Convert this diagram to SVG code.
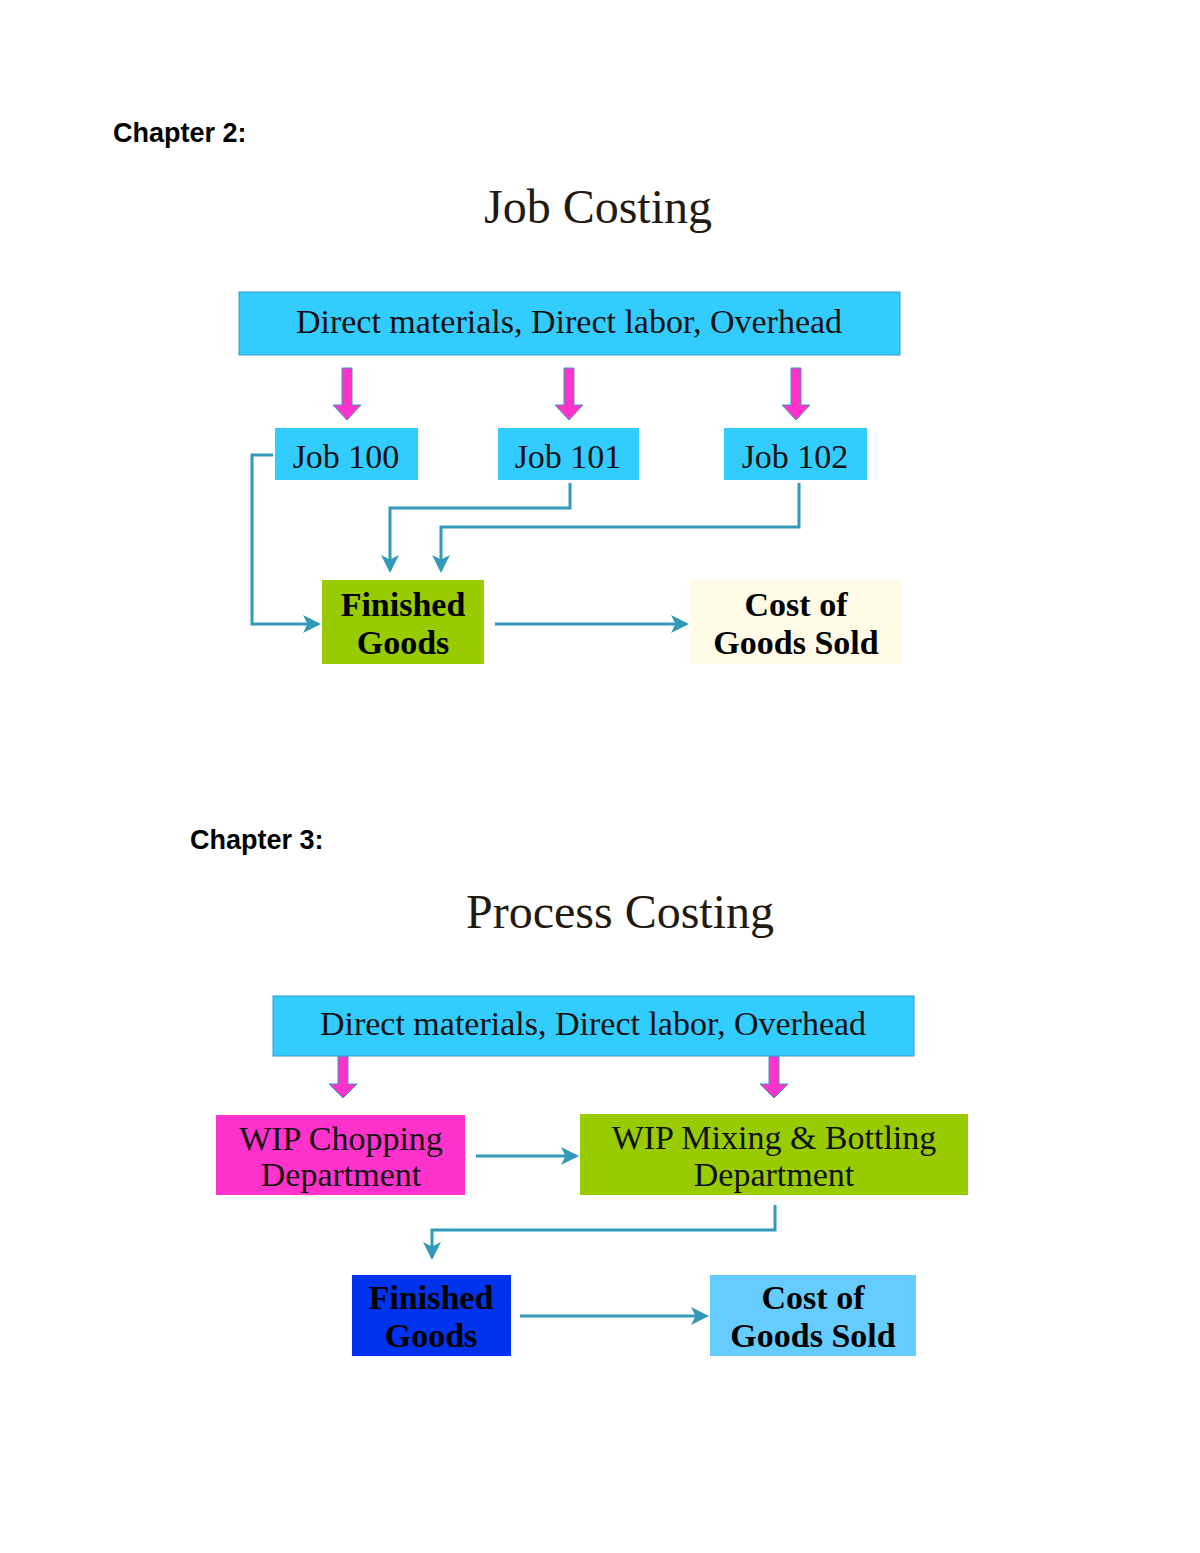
<svg xmlns="http://www.w3.org/2000/svg" width="1200" height="1553" viewBox="0 0 1200 1553">
<style>
.h{font-family:"Liberation Sans",Arial,sans-serif;font-weight:bold;font-size:27px;fill:#000}
.t{font-family:"Liberation Serif","Times New Roman",serif;font-size:48px;fill:#221a10;text-anchor:middle}
.b{font-family:"Liberation Serif","Times New Roman",serif;font-size:34px;fill:#111;text-anchor:middle}
.bb{font-family:"Liberation Serif","Times New Roman",serif;font-size:34px;font-weight:bold;fill:#000;text-anchor:middle}
.c{fill:none;stroke:#3399bb;stroke-width:3}
.p{fill:#ff33cc;stroke:#3399bb;stroke-width:1}
</style>
<defs><marker id="a" markerWidth="6" markerHeight="6" refX="5" refY="3" orient="auto" markerUnits="strokeWidth"><path d="M0,0L6,3L0,6L1.5,3Z" fill="#3399bb"/></marker></defs>
<rect width="1200" height="1553" fill="#fff"/>
<text class="h" x="113" y="142">Chapter 2:</text>
<text class="t" x="598" y="223">Job Costing</text>
<text class="h" x="190" y="849">Chapter 3:</text>
<text class="t" x="620" y="928">Process Costing</text>
<g id="pink">
<path class="p" d="M342,368h10v37h9l-14,15l-14,-15h9z"/>
<path class="p" d="M564,368h10v37h9l-14,15l-14,-15h9z"/>
<path class="p" d="M791,368h10v37h9l-14,15l-14,-15h9z"/>
<path class="p" d="M338,1056h10v28h9l-14,14l-14,-14h9z"/>
<path class="p" d="M769,1056h10v28h9l-14,14l-14,-14h9z"/>
</g>
<g id="connectors">
<path class="c" d="M273,455H252V624H318" marker-end="url(#a)"/>
<path class="c" d="M570,483V508H390V570" marker-end="url(#a)"/>
<path class="c" d="M799,483V527H441V570" marker-end="url(#a)"/>
<path class="c" d="M495,624H686" marker-end="url(#a)"/>
<path class="c" d="M476,1156H576" marker-end="url(#a)"/>
<path class="c" d="M775,1205V1230H432V1257" marker-end="url(#a)"/>
<path class="c" d="M520,1316H706" marker-end="url(#a)"/>
</g>
<g id="inputs2"><rect x="239" y="292" width="661" height="63" fill="#33ccff" stroke="#3399cc"/><text class="b" x="569" y="333">Direct materials, Direct labor, Overhead</text></g>
<g id="job100"><rect x="275" y="428" width="143" height="52" fill="#33ccff"/><text class="b" x="346" y="468">Job 100</text></g>
<g id="job101"><rect x="498" y="428" width="141" height="52" fill="#33ccff"/><text class="b" x="568" y="468">Job 101</text></g>
<g id="job102"><rect x="724" y="428" width="143" height="52" fill="#33ccff"/><text class="b" x="795" y="468">Job 102</text></g>
<g id="fg2"><rect x="322" y="580" width="162" height="84" fill="#99cc00"/><text class="bb" x="403" y="616">Finished</text><text class="bb" x="403" y="654">Goods</text></g>
<g id="cogs2"><rect x="690" y="580" width="211" height="84" fill="#fffbe6"/><text class="bb" x="796" y="616">Cost of</text><text class="bb" x="796" y="654">Goods Sold</text></g>
<g id="inputs3"><rect x="273" y="996" width="641" height="60" fill="#33ccff" stroke="#3399cc"/><text class="b" x="593" y="1035">Direct materials, Direct labor, Overhead</text></g>
<g id="wipchop"><rect x="216" y="1115" width="249" height="80" fill="#ff33cc"/><text class="b" x="341" y="1150">WIP Chopping</text><text class="b" x="341" y="1186">Department</text></g>
<g id="wipmix"><rect x="580" y="1114" width="388" height="81" fill="#99cc00"/><text class="b" x="774" y="1149">WIP Mixing &amp; Bottling</text><text class="b" x="774" y="1186">Department</text></g>
<g id="fg3"><rect x="352" y="1275" width="159" height="81" fill="#0033ee"/><text class="bb" x="431" y="1309">Finished</text><text class="bb" x="431" y="1347">Goods</text></g>
<g id="cogs3"><rect x="710" y="1275" width="206" height="81" fill="#66ccff"/><text class="bb" x="813" y="1309">Cost of</text><text class="bb" x="813" y="1347">Goods Sold</text></g>
</svg>
